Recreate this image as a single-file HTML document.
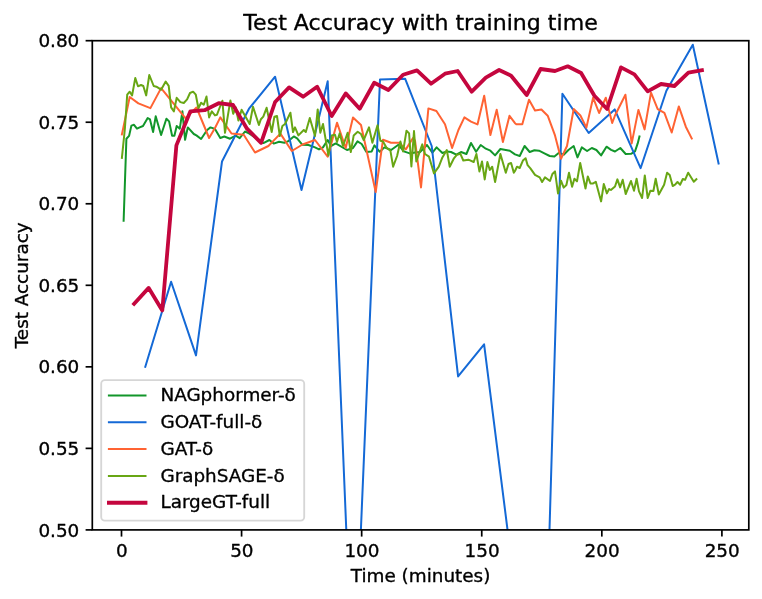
<!DOCTYPE html>
<html lang="en"><head><meta charset="utf-8"><title>Test Accuracy with training time</title>
<style>
html,body{margin:0;padding:0;background:#fff;}
svg{display:block;font-family:"DejaVu Sans","Liberation Sans",sans-serif;fill:#000;}
text{stroke:#000;stroke-width:0.35px;stroke-linejoin:round;}
</style></head><body>
<svg width="762" height="599" viewBox="0 0 762 599">
<rect x="0" y="0" width="762" height="599" fill="#fff"/>
<defs><clipPath id="ax"><rect x="92.30" y="40.70" width="656.50" height="489.20"/></clipPath></defs>
<g clip-path="url(#ax)">
<polyline points="123.6,221.7 126.4,138.8 129.1,135.9 131.4,125.6 134.0,124.8 137.0,128.7 139.7,127.4 143.0,126.0 147.7,118.0 150.0,119.4 153.1,132.0 155.7,116.3 161.1,135.0 166.4,118.7 169.1,121.4 172.1,135.8 174.4,135.8 176.7,126.0 179.8,128.7 182.4,111.3 185.1,139.8 187.8,127.4 193.8,134.0 196.4,135.4 201.1,139.0 207.1,130.0 210.5,127.4 215.0,129.0 220.3,138.0 224.3,136.5 230.0,138.7 235.7,135.6 239.7,138.2 245.0,131.5 249.0,133.4 263.4,143.1 269.4,140.0 273.7,143.6 279.1,141.8 284.4,142.7 287.8,141.4 293.8,136.4 297.1,138.4 302.2,144.7 308.5,145.0 315.0,147.4 319.0,149.4 323.0,147.4 327.7,140.0 331.0,146.0 335.7,143.4 347.0,150.0 353.0,148.0 357.5,141.4 361.7,144.0 366.4,152.0 371.7,151.4 374.4,145.4 379.8,151.8 384.4,147.4 391.1,150.0 398.4,144.7 403.8,151.4 409.8,153.4 415.0,152.5 420.0,152.0 427.0,145.0 432.4,152.7 436.6,147.4 442.4,153.0 447.0,151.4 451.0,152.0 456.4,154.7 461.0,152.0 466.4,154.0 471.0,143.0 476.1,151.7 480.7,145.0 485.8,148.7 490.4,150.7 495.1,155.4 500.4,149.0 505.8,150.0 509.8,150.7 515.0,154.4 519.7,156.0 524.6,146.0 529.7,152.0 534.4,150.3 539.0,150.7 544.4,153.4 549.7,156.0 554.4,156.5 559.0,152.7 563.7,154.7 568.4,150.0 573.7,146.0 577.5,157.4 581.8,147.4 587.1,151.0 591.8,148.0 596.4,150.0 601.1,155.4 606.5,146.7 611.1,149.8 615.0,151.5 620.3,148.0 625.7,154.0 631.0,153.8 635.0,151.4 637.7,143.4 639.7,135.4" fill="none" stroke="#12962a" stroke-width="2.00" stroke-linejoin="round" stroke-linecap="butt"/>
<polyline points="145.0,367.7 171.1,281.7 196.0,355.4 222.0,161.5 249.0,108.7 275.1,76.7 301.5,190.1 327.7,81.3 353.5,704.0 380.0,79.6 405.1,78.7 431.7,146.0 458.1,376.4 484.1,344.3 510.2,551.0 536.3,976.0 562.4,93.7 588.7,133.0 614.7,109.4 640.6,168.2 666.4,90.7 692.8,44.7 718.8,164.5" fill="none" stroke="#1469d6" stroke-width="2.00" stroke-linejoin="round" stroke-linecap="butt"/>
<polyline points="121.7,135.4 129.7,97.0 138.4,103.4 150.4,108.1 161.1,88.1 185.6,118.3 196.5,107.5 209.1,138.0 215.0,128.0 220.3,117.4 231.5,133.5 243.7,134.7 255.0,152.5 268.4,146.0 280.4,133.6 291.8,151.0 302.5,144.5 315.0,140.0 327.7,156.7 337.0,122.7 345.7,148.0 353.0,117.4 361.0,125.0 375.7,192.0 383.0,139.7 391.0,142.7 399.0,142.7 405.8,149.4 413.0,138.0 415.0,140.5 421.0,187.4 428.4,108.4 436.4,111.0 445.0,124.2 452.1,148.0 458.4,130.0 464.4,117.4 471.0,121.7 477.5,124.4 484.2,95.7 490.4,135.0 496.7,109.8 502.9,142.0 509.5,115.8 515.0,123.2 516.3,124.2 522.3,124.2 529.0,99.7 535.0,110.4 541.4,109.5 547.7,115.7 555.0,135.4 561.0,158.7 567.0,146.0 573.7,109.0 580.4,115.5 586.4,127.6 593.1,97.7 599.1,113.0 605.8,97.7 612.2,123.0 615.0,115.5 625.4,94.7 631.7,143.4 638.4,109.9 644.6,129.4 651.0,92.7 657.7,109.2 664.4,112.9 671.7,132.5 678.8,106.4 685.8,126.7 692.2,139.4" fill="none" stroke="#ff6333" stroke-width="2.00" stroke-linejoin="round" stroke-linecap="butt"/>
<polyline points="121.8,158.8 124.9,128.5 127.2,94.7 129.7,91.7 132.1,95.4 135.3,78.0 138.0,86.3 141.0,85.0 143.3,86.0 146.2,95.4 149.3,75.0 153.7,86.0 156.4,86.7 161.1,89.7 165.7,81.6 168.7,85.8 171.1,107.4 173.9,111.4 176.7,97.8 180.4,102.1 183.8,103.0 187.1,99.4 190.0,93.0 193.1,91.7 195.8,94.7 198.4,108.3 201.1,102.7 203.8,104.7 206.5,96.5 209.1,117.4 211.8,111.4 215.0,115.4 217.0,114.7 220.3,106.0 222.4,100.8 225.0,132.8 230.4,100.4 233.2,113.8 235.8,107.5 238.4,120.6 241.6,109.8 249.7,124.0 253.0,106.7 258.9,125.0 260.9,119.2 263.3,116.6 266.6,107.8 271.7,132.0 274.4,116.7 277.0,116.0 279.8,136.0 282.4,126.0 285.0,124.0 290.4,112.7 293.0,132.0 295.0,127.4 298.4,135.4 303.8,130.0 305.8,132.0 309.8,118.0 315.0,136.0 317.7,109.4 320.3,132.7 323.0,124.0 328.4,155.4 331.7,135.4 335.0,134.7 337.0,142.0 339.7,133.4 343.0,146.0 347.7,132.7 350.8,152.0 353.7,135.4 357.7,131.7 361.0,134.0 363.7,140.0 369.0,127.3 372.4,142.7 377.5,125.3 380.4,140.7 383.0,141.4 386.4,147.4 390.4,150.7 393.1,166.7 397.1,156.0 400.4,141.4 403.1,151.4 406.5,130.7 409.1,133.4 411.4,166.5 414.0,131.0 416.3,161.4 422.3,144.4 425.0,154.0 429.0,156.7 434.0,173.4 438.8,166.7 442.4,157.4 446.8,150.0 449.7,166.7 453.7,158.7 457.0,154.7 460.4,153.8 463.3,160.5 468.4,159.7 473.7,162.0 476.4,154.0 479.4,171.4 482.0,161.4 484.7,179.4 487.4,162.0 489.8,170.0 492.2,166.7 495.1,182.0 500.4,154.0 505.8,172.7 508.5,164.0 511.1,163.0 513.8,172.7 515.0,171.0 517.0,166.7 519.7,168.0 522.9,160.6 525.6,158.2 527.6,165.1 530.4,168.4 535.0,174.9 539.7,177.4 542.1,182.0 545.0,177.4 550.0,181.0 552.4,174.0 555.0,171.4 558.0,193.4 561.0,180.7 563.7,187.6 566.4,185.0 569.0,172.7 572.1,186.7 574.4,178.7 577.0,181.4 580.2,163.0 585.5,188.5 587.8,176.4 590.4,183.4 592.7,183.6 595.8,181.8 601.1,201.4 603.8,184.0 606.9,193.4 609.1,189.0 610.9,190.0 615.0,186.5 617.4,179.4 620.1,187.4 622.7,179.8 625.7,194.0 631.0,181.0 634.0,190.7 636.6,178.7 639.0,191.4 642.1,198.0 644.8,175.4 647.7,198.0 650.4,190.7 653.4,191.0 655.7,178.7 658.8,194.5 664.1,184.7 667.1,172.7 669.7,175.0 672.7,186.0 675.1,184.7 677.5,182.0 680.2,184.7 682.8,179.0 685.1,179.8 688.2,172.7 693.8,181.7 697.1,178.5" fill="none" stroke="#68a614" stroke-width="2.00" stroke-linejoin="round" stroke-linecap="butt"/>
<polyline points="132.8,305.2 148.7,287.9 162.3,310.4 176.4,145.4 190.4,111.3 204.6,110.2 218.7,103.2 233.0,105.0 247.0,128.7 261.1,142.8 275.1,102.0 289.1,87.4 303.1,96.7 317.1,86.7 331.7,116.0 345.7,93.4 359.7,108.7 374.2,82.7 388.4,90.0 403.1,74.7 417.0,70.4 431.0,83.7 445.0,73.7 457.7,71.0 471.7,91.7 485.8,77.7 499.1,70.0 511.1,75.7 526.7,95.0 540.6,69.0 555.0,71.0 567.7,66.3 581.1,73.0 594.4,95.7 607.1,109.0 621.0,67.4 634.4,74.4 647.7,91.4 661.0,84.0 674.4,86.0 688.4,72.7 703.8,69.9" fill="none" stroke="#c4063e" stroke-width="3.80" stroke-linejoin="round" stroke-linecap="butt"/>
</g>
<rect x="92.30" y="40.70" width="656.50" height="489.20" fill="none" stroke="#000" stroke-width="1.70" stroke-linejoin="miter"/>
<line x1="121.50" y1="529.90" x2="121.50" y2="536.60" stroke="#000" stroke-width="1.70"/><text x="121.80" y="557.30" font-size="18.39" text-anchor="middle">0</text>
<line x1="241.58" y1="529.90" x2="241.58" y2="536.60" stroke="#000" stroke-width="1.70"/><text x="241.88" y="557.30" font-size="18.39" text-anchor="middle">50</text>
<line x1="361.66" y1="529.90" x2="361.66" y2="536.60" stroke="#000" stroke-width="1.70"/><text x="361.96" y="557.30" font-size="18.39" text-anchor="middle">100</text>
<line x1="481.74" y1="529.90" x2="481.74" y2="536.60" stroke="#000" stroke-width="1.70"/><text x="482.04" y="557.30" font-size="18.39" text-anchor="middle">150</text>
<line x1="601.82" y1="529.90" x2="601.82" y2="536.60" stroke="#000" stroke-width="1.70"/><text x="602.12" y="557.30" font-size="18.39" text-anchor="middle">200</text>
<line x1="721.90" y1="529.90" x2="721.90" y2="536.60" stroke="#000" stroke-width="1.70"/><text x="722.20" y="557.30" font-size="18.39" text-anchor="middle">250</text>
<line x1="85.60" y1="40.70" x2="92.30" y2="40.70" stroke="#000" stroke-width="1.70"/><text x="79.30" y="47.30" font-size="18.39" text-anchor="end">0.80</text>
<line x1="85.60" y1="122.23" x2="92.30" y2="122.23" stroke="#000" stroke-width="1.70"/><text x="79.30" y="128.83" font-size="18.39" text-anchor="end">0.75</text>
<line x1="85.60" y1="203.77" x2="92.30" y2="203.77" stroke="#000" stroke-width="1.70"/><text x="79.30" y="210.37" font-size="18.39" text-anchor="end">0.70</text>
<line x1="85.60" y1="285.30" x2="92.30" y2="285.30" stroke="#000" stroke-width="1.70"/><text x="79.30" y="291.90" font-size="18.39" text-anchor="end">0.65</text>
<line x1="85.60" y1="366.83" x2="92.30" y2="366.83" stroke="#000" stroke-width="1.70"/><text x="79.30" y="373.43" font-size="18.39" text-anchor="end">0.60</text>
<line x1="85.60" y1="448.37" x2="92.30" y2="448.37" stroke="#000" stroke-width="1.70"/><text x="79.30" y="454.97" font-size="18.39" text-anchor="end">0.55</text>
<line x1="85.60" y1="529.90" x2="92.30" y2="529.90" stroke="#000" stroke-width="1.70"/><text x="79.30" y="536.50" font-size="18.39" text-anchor="end">0.50</text>
<text x="420.55" y="29.70" font-size="22.07" text-anchor="middle">Test Accuracy with training time</text>
<text x="420.55" y="582.00" font-size="18.39" text-anchor="middle">Time (minutes)</text>
<text transform="translate(28.10,285.30) rotate(-90)" font-size="18.39" text-anchor="middle">Test Accuracy</text>
<rect x="101.2" y="380.2" width="203.0" height="140.5" rx="3.6" ry="3.6" fill="#fff" fill-opacity="0.8" stroke="#cccccc" stroke-opacity="0.8" stroke-width="1.84"/>
<line x1="107.9" y1="395.40" x2="146.5" y2="395.40" stroke="#12962a" stroke-width="2.00"/><text x="160.4" y="401.00" font-size="18.39">NAGphormer-δ</text>
<line x1="107.9" y1="422.25" x2="146.5" y2="422.25" stroke="#1469d6" stroke-width="2.00"/><text x="160.4" y="427.85" font-size="18.39">GOAT-full-δ</text>
<line x1="107.9" y1="449.10" x2="146.5" y2="449.10" stroke="#ff6333" stroke-width="2.00"/><text x="160.4" y="454.70" font-size="18.39">GAT-δ</text>
<line x1="107.9" y1="475.95" x2="146.5" y2="475.95" stroke="#68a614" stroke-width="2.00"/><text x="160.4" y="481.55" font-size="18.39">GraphSAGE-δ</text>
<line x1="107.0" y1="502.80" x2="147.4" y2="502.80" stroke="#c4063e" stroke-width="3.90"/><text x="160.4" y="508.40" font-size="18.39">LargeGT-full</text>
</svg>
</body></html>
